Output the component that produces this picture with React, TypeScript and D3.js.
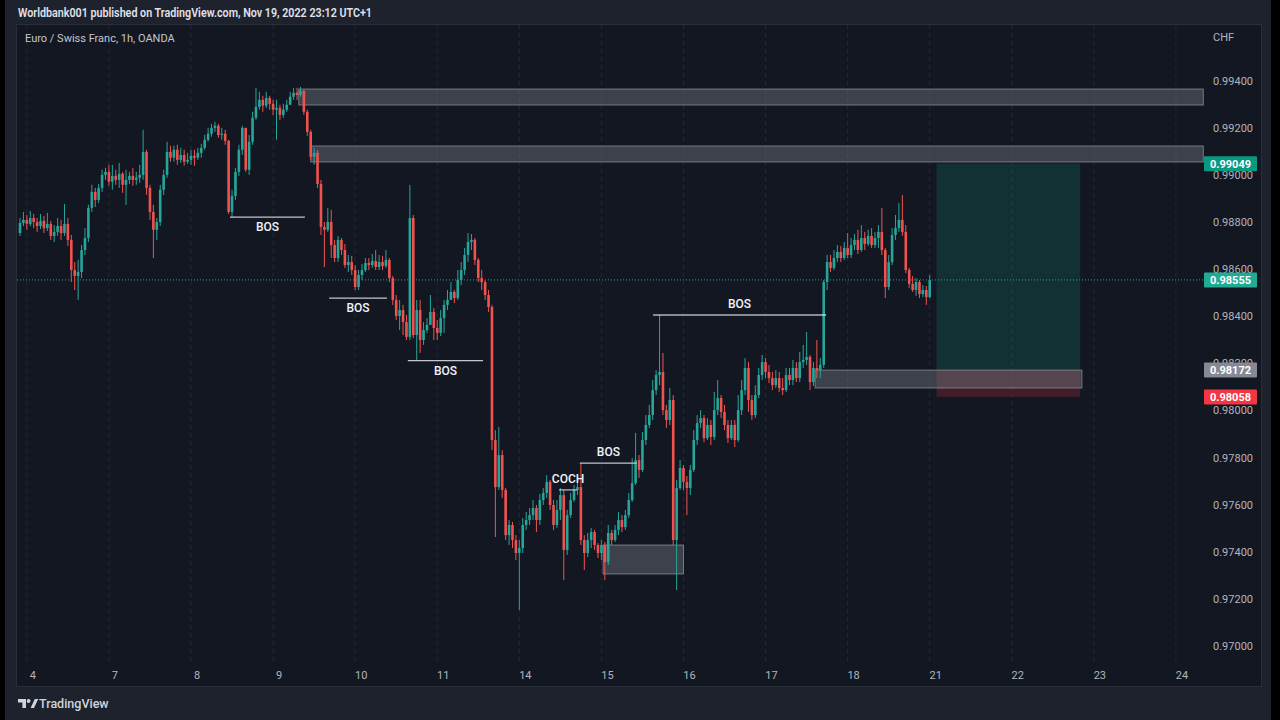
import React from 'react';
import * as d3 from 'd3';

// EUR/CHF 1h candles, prices stored in pips (price * 10000)
const FIRST_OPEN = 9875.4;
const closes = [
  9879.7, 9881.0, 9879.3, 9881.8, 9880.1, 9878.4, 9880.6, 9877.5, 9879.3, 9874.2,
  9875.9, 9878.4, 9875.4, 9879.3, 9872.5, 9859.7, 9857.2, 9858.9, 9868.2, 9873.3,
  9886.1, 9892.9, 9889.5, 9894.6, 9900.1, 9901.4, 9897.2, 9899.7, 9898.0, 9900.6,
  9895.9, 9898.0, 9899.7, 9898.0, 9898.9, 9900.1, 9909.9, 9894.6, 9884.4, 9876.8,
  9880.1, 9893.8, 9900.1, 9909.9, 9907.4, 9910.8, 9906.5, 9908.6, 9905.7, 9906.5,
  9908.2, 9907.4, 9909.5, 9911.6, 9915.0, 9917.6, 9920.1, 9921.0, 9917.1, 9917.6,
  9914.6, 9884.4, 9891.2, 9901.4, 9910.8, 9920.1, 9902.3, 9914.2, 9924.4, 9929.0,
  9932.0, 9929.5, 9932.8, 9930.3, 9927.8, 9928.6, 9925.6, 9927.8, 9929.9, 9933.3,
  9935.0, 9934.1, 9935.8, 9926.9, 9918.4, 9907.8, 9909.5, 9896.3, 9878.0, 9876.8,
  9880.1, 9870.3, 9864.8, 9872.5, 9868.2, 9861.8, 9863.1, 9859.7, 9852.5, 9857.6,
  9859.7, 9862.7, 9861.8, 9863.5, 9861.0, 9863.1, 9861.4, 9864.0, 9856.3, 9847.0,
  9840.2, 9842.7, 9837.6, 9831.3, 9881.8, 9832.1, 9842.7, 9830.0, 9834.2, 9836.4,
  9841.9, 9835.1, 9833.0, 9839.3, 9844.9, 9847.0, 9850.4, 9847.8, 9855.5, 9859.7,
  9866.1, 9871.6, 9872.5, 9864.0, 9856.3, 9854.6, 9849.1, 9844.0, 9787.5, 9767.5,
  9781.1, 9766.3, 9747.1, 9751.4, 9745.0, 9739.5, 9741.6, 9751.4, 9753.5, 9755.6,
  9758.6, 9753.5, 9762.0, 9765.0, 9769.7, 9759.9, 9751.4, 9757.8, 9764.1, 9740.8,
  9755.6, 9762.0, 9766.3, 9767.5, 9745.0, 9739.5, 9745.0, 9748.4, 9742.9, 9739.5,
  9742.9, 9735.7, 9748.0, 9745.0, 9749.3, 9753.5, 9750.5, 9755.6, 9762.0, 9769.2,
  9779.0, 9774.8, 9787.5, 9793.9, 9798.1, 9808.7, 9815.1, 9816.4, 9800.2, 9796.0,
  9804.5, 9745.0, 9767.1, 9775.6, 9769.7, 9767.1, 9774.8, 9787.5, 9794.7, 9796.8,
  9788.3, 9793.9, 9788.8, 9800.2, 9805.3, 9799.4, 9793.9, 9788.3, 9793.9, 9787.5,
  9800.2, 9808.7, 9818.1, 9804.5, 9798.1, 9806.6, 9815.1, 9820.6, 9816.4, 9813.8,
  9810.8, 9813.8, 9809.6, 9808.7, 9815.1, 9813.0, 9818.1, 9813.8, 9820.6, 9821.5,
  9822.8, 9812.1, 9818.1, 9817.2, 9819.4, 9854.6, 9863.1, 9860.6, 9864.8, 9867.4,
  9864.8, 9869.1, 9866.1, 9870.3, 9872.5, 9868.2, 9873.3, 9870.8, 9874.2, 9870.3,
  9873.3, 9875.9, 9868.2, 9852.5, 9863.1, 9874.6, 9877.5, 9881.0, 9875.9, 9859.7,
  9853.8, 9851.2, 9854.6, 9849.5, 9851.2, 9848.2, 9855.5,
];
const highs = [
  9881.8, 9884.4, 9883.1, 9884.8, 9883.5, 9881.8, 9883.5, 9882.7, 9884.0, 9880.6,
  9878.8, 9881.8, 9881.0, 9887.8, 9881.8, 9874.6, 9863.1, 9864.0, 9870.3, 9877.5,
  9887.4, 9895.9, 9894.6, 9896.3, 9902.3, 9903.1, 9904.4, 9904.4, 9902.3, 9905.2,
  9901.4, 9902.3, 9901.4, 9903.1, 9901.4, 9904.4, 9919.3, 9910.8, 9895.9, 9887.4,
  9881.8, 9895.9, 9902.3, 9914.2, 9912.5, 9912.5, 9912.9, 9911.6, 9910.8, 9909.5,
  9910.8, 9910.8, 9911.6, 9913.3, 9917.1, 9920.1, 9921.8, 9922.7, 9921.8, 9920.1,
  9919.3, 9915.0, 9893.8, 9903.1, 9912.9, 9921.0, 9920.1, 9917.1, 9926.9, 9937.1,
  9935.4, 9933.7, 9935.4, 9933.7, 9932.0, 9932.0, 9929.9, 9930.3, 9932.0, 9935.4,
  9937.1, 9937.1, 9937.5, 9936.2, 9927.8, 9919.3, 9911.6, 9910.8, 9898.0, 9880.1,
  9886.1, 9885.3, 9872.5, 9874.2, 9873.3, 9870.8, 9866.1, 9865.7, 9861.8, 9859.7,
  9862.3, 9864.8, 9864.8, 9866.5, 9868.2, 9866.1, 9865.7, 9868.2, 9864.8, 9857.2,
  9849.1, 9847.0, 9844.9, 9840.6, 9895.9, 9883.1, 9847.0, 9847.0, 9837.6, 9839.3,
  9849.1, 9843.6, 9838.5, 9842.7, 9847.0, 9851.2, 9854.6, 9851.2, 9859.7, 9863.1,
  9869.1, 9875.4, 9875.0, 9873.3, 9864.8, 9859.7, 9855.5, 9851.2, 9844.9, 9791.7,
  9793.0, 9783.2, 9767.1, 9753.5, 9752.7, 9747.1, 9745.0, 9754.4, 9756.9, 9758.6,
  9762.0, 9759.9, 9764.6, 9767.1, 9772.6, 9770.5, 9762.0, 9762.0, 9767.1, 9766.3,
  9757.8, 9765.0, 9768.4, 9769.2, 9777.7, 9747.1, 9748.0, 9750.1, 9749.3, 9743.7,
  9745.0, 9744.2, 9751.4, 9749.3, 9751.4, 9756.9, 9755.6, 9757.8, 9765.0, 9779.8,
  9790.5, 9781.1, 9790.9, 9798.1, 9802.4, 9813.0, 9817.2, 9840.6, 9824.5, 9802.4,
  9809.6, 9806.6, 9770.5, 9779.0, 9776.9, 9772.2, 9776.9, 9791.7, 9798.1, 9800.2,
  9798.1, 9796.8, 9796.0, 9807.9, 9813.0, 9806.6, 9802.4, 9796.0, 9796.0, 9796.0,
  9806.6, 9813.0, 9822.3, 9820.6, 9806.6, 9810.8, 9818.1, 9823.6, 9822.3, 9819.4,
  9816.4, 9817.2, 9816.4, 9813.8, 9818.1, 9818.1, 9821.5, 9820.6, 9824.9, 9827.9,
  9833.4, 9823.6, 9820.6, 9830.0, 9822.3, 9855.5, 9866.1, 9866.1, 9868.2, 9870.3,
  9869.9, 9871.6, 9875.4, 9873.3, 9875.0, 9876.8, 9878.8, 9875.9, 9876.8, 9877.5,
  9875.9, 9878.8, 9886.1, 9869.1, 9866.1, 9877.5, 9883.1, 9888.2, 9891.6, 9878.8,
  9860.6, 9857.2, 9856.3, 9855.5, 9853.3, 9852.9, 9857.6,
];
const lows = [
  9874.2, 9878.4, 9876.8, 9878.4, 9877.5, 9875.9, 9877.1, 9875.4, 9876.3, 9872.5,
  9871.6, 9874.2, 9872.5, 9874.2, 9869.9, 9854.6, 9851.2, 9847.0, 9856.3, 9866.1,
  9871.6, 9884.4, 9886.5, 9888.2, 9892.9, 9898.0, 9895.5, 9893.8, 9895.9, 9894.6,
  9892.5, 9887.4, 9896.3, 9895.5, 9895.9, 9896.7, 9898.0, 9891.6, 9881.0, 9864.8,
  9872.5, 9878.4, 9891.6, 9898.9, 9905.7, 9905.7, 9904.4, 9905.2, 9904.0, 9904.8,
  9904.4, 9904.0, 9906.5, 9907.4, 9910.8, 9914.2, 9916.3, 9918.4, 9915.9, 9915.0,
  9912.9, 9883.5, 9882.3, 9889.5, 9899.7, 9908.6, 9901.4, 9900.1, 9912.9, 9923.5,
  9927.8, 9926.9, 9928.6, 9927.8, 9925.6, 9915.0, 9923.5, 9924.4, 9926.9, 9929.9,
  9932.0, 9932.0, 9933.3, 9925.6, 9916.7, 9906.5, 9904.4, 9894.6, 9874.6, 9861.0,
  9875.9, 9864.8, 9863.1, 9863.1, 9866.1, 9860.6, 9858.9, 9857.6, 9851.2, 9851.2,
  9855.5, 9858.9, 9859.7, 9860.6, 9859.7, 9859.7, 9859.7, 9860.6, 9854.6, 9844.9,
  9838.5, 9834.2, 9832.1, 9830.0, 9830.0, 9830.8, 9821.5, 9824.5, 9827.9, 9833.0,
  9836.4, 9830.0, 9830.0, 9831.7, 9833.0, 9842.7, 9847.0, 9845.7, 9847.0, 9853.3,
  9857.6, 9863.1, 9868.2, 9861.8, 9854.6, 9851.2, 9847.0, 9841.9, 9783.2, 9746.3,
  9766.3, 9762.9, 9745.0, 9742.9, 9741.6, 9736.5, 9715.3, 9739.5, 9749.3, 9751.4,
  9753.5, 9748.4, 9751.4, 9759.9, 9762.9, 9757.8, 9749.3, 9750.1, 9753.5, 9728.0,
  9738.7, 9754.4, 9761.2, 9764.1, 9742.9, 9732.3, 9737.8, 9741.6, 9740.8, 9737.4,
  9736.5, 9728.0, 9734.4, 9742.9, 9744.2, 9747.1, 9748.4, 9749.3, 9754.4, 9761.2,
  9768.4, 9771.4, 9773.9, 9785.4, 9792.6, 9796.0, 9806.6, 9810.8, 9798.1, 9792.6,
  9793.9, 9742.9, 9723.8, 9766.3, 9766.3, 9755.6, 9764.1, 9773.9, 9785.4, 9792.6,
  9786.6, 9787.5, 9785.4, 9787.5, 9798.1, 9796.8, 9791.7, 9786.2, 9787.5, 9784.5,
  9786.6, 9798.1, 9806.6, 9799.4, 9796.0, 9796.8, 9805.3, 9813.0, 9813.8, 9811.7,
  9808.7, 9809.6, 9807.9, 9806.6, 9807.9, 9810.8, 9810.8, 9812.1, 9812.1, 9818.1,
  9819.4, 9808.7, 9810.4, 9813.8, 9813.8, 9818.1, 9851.2, 9858.9, 9859.7, 9863.1,
  9863.1, 9864.0, 9864.8, 9864.8, 9868.2, 9866.5, 9867.4, 9868.2, 9869.9, 9869.1,
  9869.1, 9869.1, 9866.1, 9847.8, 9851.2, 9861.8, 9872.5, 9875.9, 9874.2, 9858.4,
  9852.1, 9850.4, 9848.7, 9847.8, 9848.2, 9844.9, 9847.8,
];

// axes
const priceTicks = [0.970, 0.972, 0.974, 0.976, 0.978, 0.980, 0.982, 0.984, 0.986, 0.988, 0.990, 0.992, 0.994];
const dayLabels = ['4', '7', '8', '9', '10', '11', '14', '15', '16', '17', '18', '21', '22', '23', '24'];
const dayBarIndex = [2, 26, 50, 74, 98, 122, 146, 170, 194, 218, 242, 266, 290, 314, 338];

// grey zones: [fromBar, toBar, lowPrice, highPrice]
const zoneFrom = [81.5, 85, 170.5, 232.5];
const zoneTo = [346, 346, 194, 310.5];
const zoneLow = [0.99298, 0.99056, 0.97306, 0.98096];
const zoneHigh = [0.99366, 0.99124, 0.97429, 0.98172];

// structure annotations
const structText = ['BOS', 'BOS', 'BOS', 'COCH', 'BOS', 'BOS'];
const structPrice = [0.98822, 0.98478, 0.98212, 0.97663, 0.97777, 0.98406];
const structFrom = [61.4, 90.4, 113.4, 157.6, 163.7, 185.1];
const structTo = [83.3, 107.3, 135.4, 162.9, 180.4, 235.7];
const structBelow = [true, true, true, false, false, false];

// long position
const longFrom = 268;
const longTo = 310;
const longEntry = 0.98172;
const longTarget = 0.99049;
const longStop = 0.98058;
const lastPrice = 0.98555;

const UP = '#26a69a';
const DOWN = '#ef5350';
const FONT = 'Roboto, "Noto Sans", sans-serif';

export default function App() {
  const x = d3.scaleLinear().domain([0, 346]).range([20, 20 + 346 * 3.42]);
  const y = d3.scaleLinear().domain([0.97, 0.994]).range([646, 81]);
  const fmt = d3.format('.5f');

  const candles = closes.map((c, i) => {
    const o = i === 0 ? FIRST_OPEN : closes[i - 1];
    const h = Math.max(highs[i], o, c);
    const l = Math.min(lows[i], o, c);
    return { o: o / 10000, c: c / 10000, h: h / 10000, l: l / 10000, i };
  });

  const badges = [
    { v: longTarget, bg: '#089981' },
    { v: lastPrice, bg: '#22ab94' },
    { v: longEntry, bg: '#868993' },
    { v: longStop, bg: '#f23645' },
  ];

  return (
    <div style={{ position: 'absolute', left: 0, top: 0 }}>
      <svg width={1280} height={720} style={{ display: 'block' }} fontFamily={FONT}>
        <defs>
          <clipPath id="pane">
            <rect x={17} y={25} width={1188} height={638} />
          </clipPath>
        </defs>
        <rect x={0} y={0} width={1280} height={720} fill="#000" />
        <rect x={5} y={0} width={1266} height={720} fill="#1e222d" />
        <rect x={16.5} y={24.5} width={1245} height={662} fill="#131722" stroke="#2a2e39" />

        <text x={18} y={17} fill="#e0e3eb" fontSize={12} fontWeight={600} textLength={354} lengthAdjust="spacingAndGlyphs">
          Worldbank001 published on TradingView.com, Nov 19, 2022 23:12 UTC+1
        </text>

        {/* vertical grid */}
        {dayBarIndex.map((b, k) => (
          <line key={'g' + k} x1={x(b)} x2={x(b)} y1={25} y2={662} stroke="#262a35" strokeDasharray="4 4" />
        ))}

        <g clipPath="url(#pane)">
          {/* long position */}
          <rect x={x(longFrom)} width={x(longTo) - x(longFrom)} y={y(longTarget)} height={y(longEntry) - y(longTarget)} fill="rgba(8,153,129,0.2)" />
          <rect x={x(longFrom)} width={x(longTo) - x(longFrom)} y={y(longEntry)} height={y(longStop) - y(longEntry)} fill="rgba(242,54,69,0.2)" />

          {/* last price line */}
          <line x1={17} x2={1205} y1={y(lastPrice)} y2={y(lastPrice)} stroke={UP} strokeDasharray="1 2" />

          {/* zones */}
          {zoneFrom.map((f, k) => (
            <rect key={'z' + k} x={x(f)} width={x(zoneTo[k]) - x(f)} y={y(zoneHigh[k])} height={y(zoneLow[k]) - y(zoneHigh[k])}
              fill="rgba(120,123,134,0.42)" stroke="rgba(178,181,190,0.55)" strokeWidth={1} />
          ))}

          {/* candles */}
          {candles.map((d) => {
            const col = d.c >= d.o ? UP : DOWN;
            const cx = x(d.i);
            const top = y(Math.max(d.o, d.c));
            const bot = y(Math.min(d.o, d.c));
            return (
              <g key={'c' + d.i}>
                <rect x={cx - 0.5} width={1} y={y(d.h)} height={Math.max(1, y(d.l) - y(d.h))} fill={col} />
                <rect x={cx - 1.3} width={2.6} y={top} height={Math.max(1, bot - top)} fill={col} />
              </g>
            );
          })}

          {/* structure */}
          {structText.map((t, k) => {
            const yy = y(structPrice[k]);
            const mid = (x(structFrom[k]) + x(structTo[k])) / 2;
            const col = k === 5 ? '#ffffff' : '#c3c6ce';
            return (
              <g key={'s' + k}>
                <line x1={x(structFrom[k])} x2={x(structTo[k])} y1={yy} y2={yy} stroke={col} strokeWidth={1.2} />
                <text x={mid} y={structBelow[k] ? yy + 14 : yy - 7} textAnchor="middle" fill="#f0f3fa" fontSize={12} fontWeight={500}>{t}</text>
              </g>
            );
          })}
        </g>

        <text x={25} y={42} fill="#c3c6ce" fontSize={11}>Euro / Swiss Franc, 1h, OANDA</text>

        {/* price axis */}
        <text x={1213} y={41} fill="#b2b5be" fontSize={11}>CHF</text>
        {priceTicks.map((p) => (
          <text key={'p' + p} x={1213} y={y(p)} dy="0.35em" fill="#b2b5be" fontSize={11}>{fmt(p)}</text>
        ))}
        {badges.map((b) => (
          <g key={'b' + b.v}>
            <rect x={1204} y={y(b.v) - 7.5} width={53} height={15} fill={b.bg} rx={1} />
            <text x={1230.5} y={y(b.v)} dy="0.36em" textAnchor="middle" fill="#ffffff" fontSize={11} fontWeight={700}>{fmt(b.v)}</text>
          </g>
        ))}

        {/* time axis */}
        {dayLabels.map((t, k) => (
          <text key={'t' + k} x={x(dayBarIndex[k]) + 6} y={679} textAnchor="middle" fill="#b2b5be" fontSize={11}>{t}</text>
        ))}

        {/* footer logo */}
        <path d="M18,699 h8 v9 h-3.6 v-5.4 h-4.4 z" fill="#d1d4dc" />
        <circle cx={28.6} cy={701} r={1.9} fill="#d1d4dc" />
        <path d="M30.6,708 l4.2,-9 h3.4 l-4.2,9 z" fill="#d1d4dc" />
        <text x={39} y={707.5} fill="#d1d4dc" fontSize={12.5} fontWeight={500}>TradingView</text>
      </svg>
    </div>
  );
}
